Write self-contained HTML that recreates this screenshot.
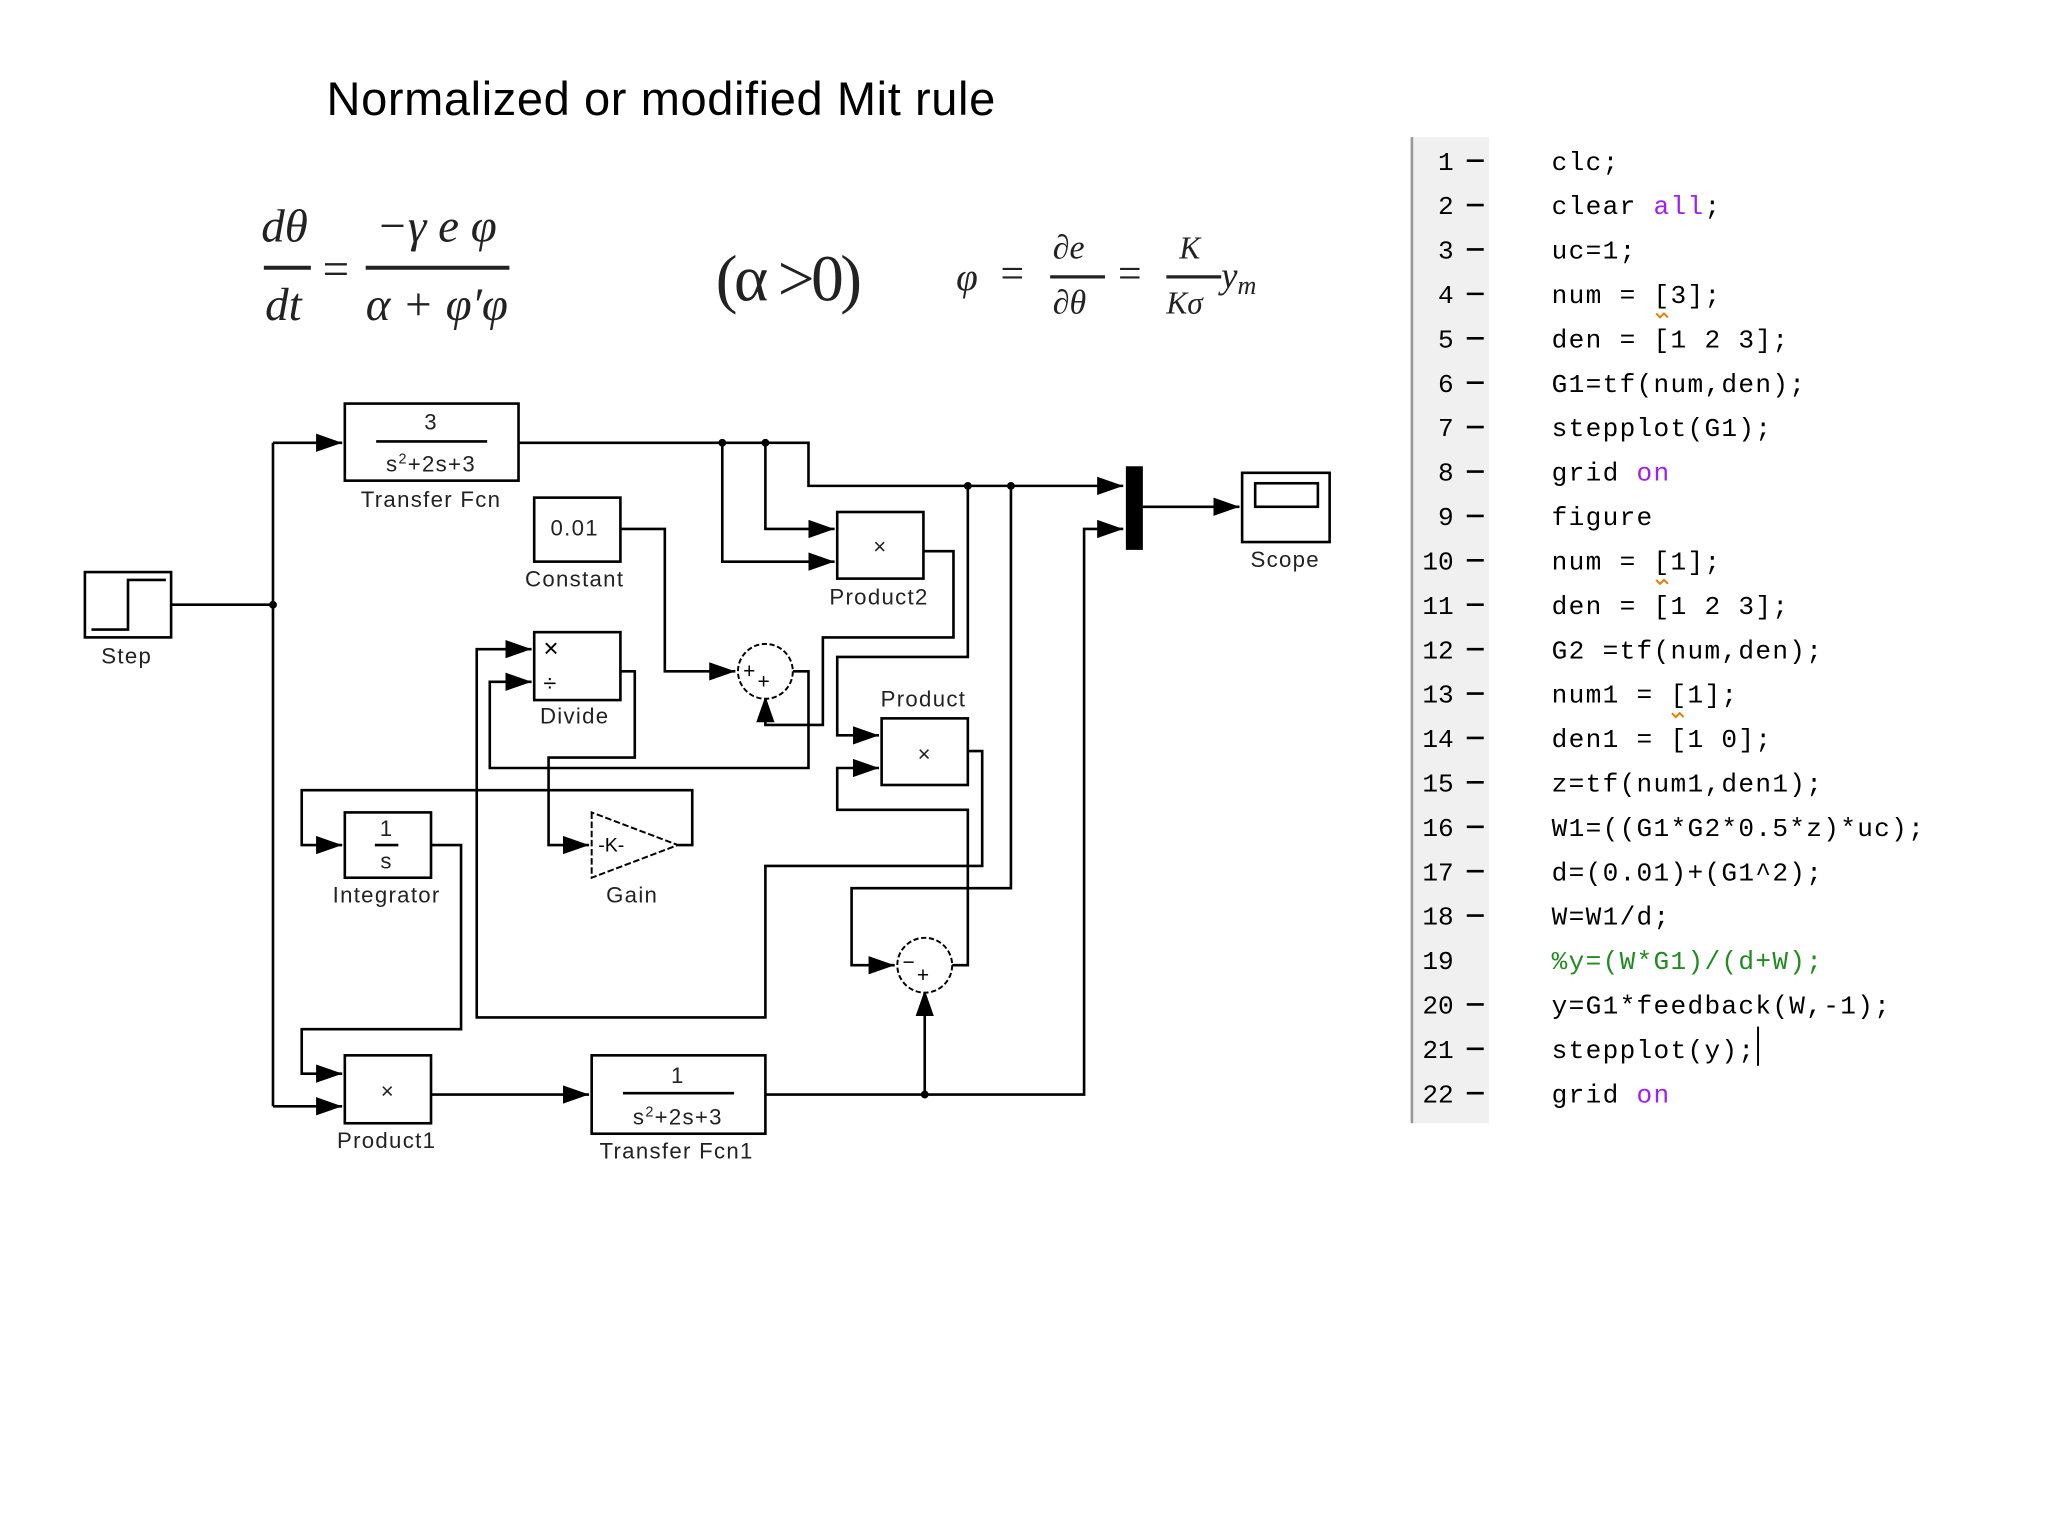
<!DOCTYPE html>
<html><head><meta charset="utf-8"><style>
html,body{margin:0;padding:0;background:#fff}
svg{display:block}
.l{fill:none;stroke:#000;stroke-width:2}
.b{fill:#fff;stroke:#000;stroke-width:2}
.t{font-family:"Liberation Sans",sans-serif;font-size:17px;fill:#222;text-anchor:middle;letter-spacing:1px}
.m{font-family:"Liberation Serif",serif;font-style:italic;fill:#222}
.c{font-family:"Liberation Mono",monospace;font-size:20px;fill:#000;letter-spacing:1px}
.n{font-family:"Liberation Mono",monospace;font-size:20px;fill:#000;text-anchor:end}
</style></head><body>
<svg width="2048" height="1536" viewBox="0 0 1568 1176" xmlns="http://www.w3.org/2000/svg">
<defs>
<marker id="A" viewBox="0 0 20 14" markerWidth="20" markerHeight="14" refX="20" refY="7" orient="auto" markerUnits="userSpaceOnUse"><path d="M0,0 L20,7 L0,14 z" fill="#000"/></marker></defs>
<text x="250" y="88" font-family="Liberation Sans,sans-serif" font-size="36" fill="#000" textLength="512">Normalized or modified Mit rule</text>
<!-- equations -->
<g class="m" font-size="36">
<text x="200" y="185">dθ</text><line x1="202" y1="205" x2="238" y2="205" stroke="#222" stroke-width="3"/><text x="203" y="245">dt</text>
<text x="247" y="218" font-style="normal">=</text>
<text x="288" y="185">−γ e φ</text><line x1="280" y1="205" x2="390" y2="205" stroke="#222" stroke-width="3"/><text x="280" y="245">α + φ′φ</text>
<text x="548" y="230" font-size="50" font-style="normal" textLength="112">(α &gt;0)</text>
<text x="732" y="222" font-size="30">φ</text><text x="766" y="220" font-style="normal" font-size="32">=</text>
<text x="806" y="198" font-size="26">∂e</text><line x1="804" y1="212" x2="846" y2="212" stroke="#222" stroke-width="2.5"/><text x="806" y="240" font-size="26">∂θ</text>
<text x="856" y="220" font-style="normal" font-size="32">=</text>
<text x="903" y="198" font-size="24">K</text><line x1="893" y1="212" x2="935" y2="212" stroke="#222" stroke-width="2.5"/><text x="893" y="240" font-size="24">Kσ</text>
<text x="935" y="220" font-size="28">y<tspan font-size="20" dy="5">m</tspan></text>
</g>
<!-- code panel -->
<rect x="1080" y="105" width="60" height="755" fill="#f0f0f0"/>
<line x1="1081" y1="105" x2="1081" y2="860" stroke="#999" stroke-width="2"/>
<g>
<text class="n" x="1113" y="130">1</text><text class="n" x="1113" y="164">2</text><text class="n" x="1113" y="198">3</text><text class="n" x="1113" y="232">4</text><text class="n" x="1113" y="266">5</text><text class="n" x="1113" y="300">6</text><text class="n" x="1113" y="334">7</text><text class="n" x="1113" y="368">8</text><text class="n" x="1113" y="402">9</text><text class="n" x="1113" y="436">10</text><text class="n" x="1113" y="470">11</text><text class="n" x="1113" y="504">12</text><text class="n" x="1113" y="538">13</text><text class="n" x="1113" y="572">14</text><text class="n" x="1113" y="606">15</text><text class="n" x="1113" y="640">16</text><text class="n" x="1113" y="674">17</text><text class="n" x="1113" y="708">18</text><text class="n" x="1113" y="742">19</text><text class="n" x="1113" y="776">20</text><text class="n" x="1113" y="810">21</text><text class="n" x="1113" y="844">22</text>
</g>
<g stroke="#000" stroke-width="2">
<line x1="1123" y1="123" x2="1136" y2="123"/><line x1="1123" y1="157" x2="1136" y2="157"/><line x1="1123" y1="191" x2="1136" y2="191"/><line x1="1123" y1="225" x2="1136" y2="225"/><line x1="1123" y1="259" x2="1136" y2="259"/><line x1="1123" y1="293" x2="1136" y2="293"/><line x1="1123" y1="327" x2="1136" y2="327"/><line x1="1123" y1="361" x2="1136" y2="361"/><line x1="1123" y1="395" x2="1136" y2="395"/><line x1="1123" y1="429" x2="1136" y2="429"/><line x1="1123" y1="463" x2="1136" y2="463"/><line x1="1123" y1="497" x2="1136" y2="497"/><line x1="1123" y1="531" x2="1136" y2="531"/><line x1="1123" y1="565" x2="1136" y2="565"/><line x1="1123" y1="599" x2="1136" y2="599"/><line x1="1123" y1="633" x2="1136" y2="633"/><line x1="1123" y1="667" x2="1136" y2="667"/><line x1="1123" y1="701" x2="1136" y2="701"/><line x1="1123" y1="769" x2="1136" y2="769"/><line x1="1123" y1="803" x2="1136" y2="803"/><line x1="1123" y1="837" x2="1136" y2="837"/>
</g>
<g class="c" xml:space="preserve">
<text x="1188" y="130">clc;</text>
<text x="1188" y="164">clear <tspan fill="#a020f0">all</tspan>;</text>
<text x="1188" y="198">uc=1;</text>
<text x="1188" y="232">num = [3];</text>
<text x="1188" y="266">den = [1 2 3];</text>
<text x="1188" y="300">G1=tf(num,den);</text>
<text x="1188" y="334">stepplot(G1);</text>
<text x="1188" y="368">grid <tspan fill="#a020f0">on</tspan></text>
<text x="1188" y="402">figure</text>
<text x="1188" y="436">num = [1];</text>
<text x="1188" y="470">den = [1 2 3];</text>
<text x="1188" y="504">G2 =tf(num,den);</text>
<text x="1188" y="538">num1 = [1];</text>
<text x="1188" y="572">den1 = [1 0];</text>
<text x="1188" y="606">z=tf(num1,den1);</text>
<text x="1188" y="640">W1=((G1*G2*0.5*z)*uc);</text>
<text x="1188" y="674">d=(0.01)+(G1^2);</text>
<text x="1188" y="708">W=W1/d;</text>
<text x="1188" y="742" fill="#228b22">%y=(W*G1)/(d+W);</text>
<text x="1188" y="776">y=G1*feedback(W,-1);</text>
<text x="1188" y="810">stepplot(y);</text>
<text x="1188" y="844">grid <tspan fill="#a020f0">on</tspan></text>
</g>
<line x1="1346" y1="786" x2="1346" y2="816" stroke="#000" stroke-width="1.5"/>
<g stroke="#e08000" stroke-width="1.5" fill="none"><path d="M1268,240 l3,3 l3,-3 l3,3"/><path d="M1268,444 l3,3 l3,-3 l3,3"/><path d="M1280,546 l3,3 l3,-3 l3,3"/></g>

<!-- diagram wires -->
<g class="l">
<polyline points="131,463 209,463"/>
<polyline points="209,339 209,847"/>
<polyline points="209,339 262,339" marker-end="url(#A)"/>
<polyline points="209,847 262,847" marker-end="url(#A)"/>
<polyline points="397,339 619,339 619,372 860,372" marker-end="url(#A)"/>
<polyline points="553,339 553,430 639,430" marker-end="url(#A)"/>
<polyline points="586,339 586,405 639,405" marker-end="url(#A)"/>
<polyline points="741,372 741,503 641,503 641,563 673,563" marker-end="url(#A)"/>
<polyline points="774,372 774,680 652,680 652,739 685,739" marker-end="url(#A)"/>
<polyline points="875,388 949,388" marker-end="url(#A)"/>
<polyline points="586,838 830,838 830,405 860,405" marker-end="url(#A)"/>
<polyline points="708,838 708,758" marker-end="url(#A)"/>
<polyline points="707,422 730,422 730,488 630,488 630,555 586,555 586,533" marker-end="url(#A)"/>
<polyline points="475,405 509,405 509,514 563,514" marker-end="url(#A)"/>
<polyline points="607,514 619,514 619,588 375,588 375,522 407,522" marker-end="url(#A)"/>
<polyline points="741,575 752,575 752,663 586,663 586,779 365,779 365,497 407,497" marker-end="url(#A)"/>
<polyline points="475,514 486,514 486,580 420,580 420,647 451,647" marker-end="url(#A)"/>
<polyline points="519,647 530,647 530,605 231,605 231,647 262,647" marker-end="url(#A)"/>
<polyline points="330,647 353,647 353,788 231,788 231,822 262,822" marker-end="url(#A)"/>
<polyline points="330,838 451,838" marker-end="url(#A)"/>
<polyline points="729,739 741,739 741,620 641,620 641,588 673,588" marker-end="url(#A)"/>
</g>
<g fill="#000"><circle cx="209" cy="463" r="3"/><circle cx="553" cy="339" r="3"/><circle cx="586" cy="339" r="3"/><circle cx="741" cy="372" r="3"/><circle cx="774" cy="372" r="3"/><circle cx="708" cy="838" r="3"/></g>

<!-- blocks -->
<rect class="b" x="264" y="309" width="133" height="59"/>
<text class="t" x="330" y="329" font-size="15">3</text><line x1="288" y1="338" x2="373" y2="338" stroke="#000" stroke-width="2"/>
<text class="t" x="330" y="361" font-size="15">s<tspan font-size="11" dy="-6">2</tspan><tspan dy="6">+2s+3</tspan></text>
<text class="t" x="330" y="388">Transfer Fcn</text>

<rect class="b" x="65" y="438" width="66" height="50"/>
<polyline class="l" points="70,482 98,482 98,444 127,444"/>
<text class="t" x="97" y="508">Step</text>

<rect class="b" x="409" y="381" width="66" height="49"/>
<text class="t" x="440" y="410">0.01</text>
<text class="t" x="440" y="449">Constant</text>

<rect class="b" x="641" y="392" width="66" height="51"/>
<text class="t" x="674" y="424" font-size="22">×</text>
<text class="t" x="673" y="463">Product2</text>

<circle cx="586" cy="514" r="21" fill="#fff" stroke="#000" stroke-width="1.5" stroke-dasharray="4,2"/>
<text x="569" y="519" font-family="Liberation Sans" font-size="16">+</text><text x="580" y="527" font-family="Liberation Sans" font-size="16">+</text>

<rect class="b" x="409" y="484" width="66" height="52"/>
<text x="416" y="503" font-family="Liberation Sans" font-size="20">×</text><text x="416" y="529" font-family="Liberation Sans" font-size="18">÷</text>
<text class="t" x="440" y="554">Divide</text>

<rect class="b" x="675" y="550" width="66" height="51"/>
<text class="t" x="708" y="583" font-size="22">×</text>
<text class="t" x="707" y="541">Product</text>

<rect class="b" x="264" y="622" width="66" height="50"/>
<text class="t" x="296" y="640" font-size="15">1</text><line x1="287" y1="647" x2="305" y2="647" stroke="#000" stroke-width="2"/><text class="t" x="296" y="665" font-size="14">s</text>
<text class="t" x="296" y="691">Integrator</text>

<polygon points="453,622 453,672 519,647" fill="#fff" stroke="#000" stroke-width="1.5" stroke-dasharray="5,2"/>
<text x="458" y="652" font-family="Liberation Sans" font-size="15">-K-</text>
<text class="t" x="484" y="691">Gain</text>

<circle cx="708" cy="739" r="21" fill="#fff" stroke="#000" stroke-width="1.5" stroke-dasharray="4,2"/>
<text x="691" y="742" font-family="Liberation Sans" font-size="16">−</text><text x="702" y="752" font-family="Liberation Sans" font-size="16">+</text>

<rect class="b" x="264" y="808" width="66" height="52"/>
<text class="t" x="297" y="841" font-size="22">×</text>
<text class="t" x="296" y="879">Product1</text>

<rect class="b" x="453" y="808" width="133" height="60"/>
<text class="t" x="519" y="829" font-size="15">1</text><line x1="477" y1="837" x2="562" y2="837" stroke="#000" stroke-width="2"/>
<text class="t" x="519" y="861" font-size="15">s<tspan font-size="11" dy="-6">2</tspan><tspan dy="6">+2s+3</tspan></text>
<text class="t" x="518" y="887">Transfer Fcn1</text>

<rect x="862" y="357" width="13" height="64" fill="#000"/>

<rect class="b" x="951" y="362" width="67" height="53"/>
<rect x="961" y="370" width="48" height="18" fill="#fff" stroke="#000" stroke-width="2"/>
<text class="t" x="984" y="434">Scope</text>
</svg>
</body></html>
